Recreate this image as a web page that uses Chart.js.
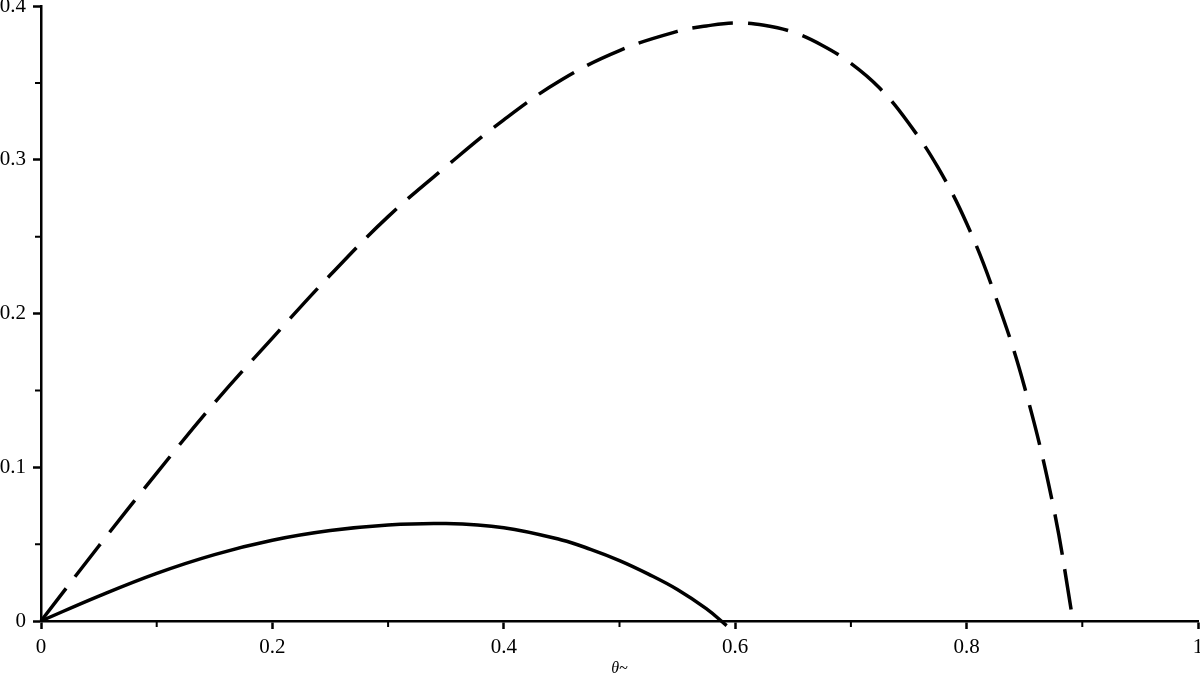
<!DOCTYPE html>
<html>
<head>
<meta charset="utf-8">
<script src="https://cdn.jsdelivr.net/npm/chart.js@4"></script>
<style>
  html, body { margin: 0; padding: 0; background: #fff; }
  #wrap { width: 1200px; height: 678px; }
</style>
</head>
<body>
<div id="wrap"><canvas id="chart" width="1200" height="678"></canvas></div>
<script>
// values
const solidTheta = [0, 0.05, 0.1, 0.15, 0.2, 0.25, 0.3, 0.35, 0.4, 0.45, 0.475, 0.5, 0.525, 0.55, 0.575, 0.5926];
const solidValues = [0, 0.0162, 0.0310, 0.0432, 0.0525, 0.0588, 0.0625, 0.0634, 0.0607, 0.0527, 0.0466, 0.0393, 0.0305, 0.0205, 0.0080, -0.0030];

const dashedTheta = [0, 0.05, 0.1, 0.15, 0.2, 0.25, 0.3, 0.35, 0.4, 0.45, 0.5, 0.55, 0.575, 0.6, 0.625, 0.65, 0.675, 0.7, 0.725, 0.75, 0.775, 0.8, 0.825, 0.85, 0.875, 0.892];
const dashedValues = [0, 0.0488, 0.0962, 0.142, 0.184, 0.225, 0.263, 0.2955, 0.326, 0.352, 0.371, 0.3835, 0.387, 0.389, 0.3875, 0.383, 0.3745, 0.3627, 0.3465, 0.3237, 0.2953, 0.2587, 0.211, 0.1524, 0.0743, 0];

const xMinorTicks = [0.1, 0.3, 0.5, 0.7, 0.9];
const yMinorTicks = [0.05, 0.15, 0.25, 0.35];

const toPoints = (xs, ys) => xs.map((x, i) => ({ x, y: ys[i] }));
const fmt = v => String(Math.round(v * 10) / 10);

const minorTicks = {
  id: "minorTicks",
  afterDraw(chart) {
    const { ctx, scales: { x, y } } = chart;
    ctx.save();
    ctx.strokeStyle = "#000";
    ctx.lineWidth = 2;
    ctx.beginPath();
    xMinorTicks.forEach(v => {
      const px = x.getPixelForValue(v);
      ctx.moveTo(px, y.bottom);
      ctx.lineTo(px, y.bottom + 6);
    });
    yMinorTicks.forEach(v => {
      const py = y.getPixelForValue(v);
      ctx.moveTo(x.left, py);
      ctx.lineTo(x.left - 6, py);
    });
    ctx.stroke();
    ctx.restore();
  }
};

new Chart(document.getElementById("chart"), {
  type: "line",
  data: {
    datasets: [
      {
        data: toPoints(dashedTheta, dashedValues),
        borderColor: "#000",
        borderWidth: 3.5,
        borderDash: [41, 15],
        pointRadius: 0,
        tension: 0.4,
        capBezierPoints: false,
        clip: false
      },
      {
        data: toPoints(solidTheta, solidValues),
        borderColor: "#000",
        borderWidth: 3.5,
        pointRadius: 0,
        tension: 0.4,
        capBezierPoints: false,
        clip: false
      }
    ]
  },
  options: {
    responsive: false,
    animation: false,
    layout: { padding: { top: 6, right: 2, left: 0, bottom: 0 } },
    plugins: { legend: { display: false }, tooltip: { enabled: false } },
    scales: {
      x: {
        type: "linear",
        min: 0,
        max: 1,
        grid: { drawOnChartArea: false, drawTicks: true, tickLength: 8, tickWidth: 2.5, tickColor: "#000" },
        border: { display: true, color: "#000", width: 2.5 },
        ticks: {
          stepSize: 0.2,
          padding: 6,
          maxRotation: 0,
          color: "#000",
          font: { family: "Liberation Serif", size: 21 },
          callback: v => fmt(v)
        },
        title: {
          display: true,
          text: "θ~",
          color: "#000",
          font: { family: "Liberation Serif", size: 16, style: "italic" },
          padding: { top: 0, bottom: 0 }
        },
        afterFit: s => { s.height = 57; s.paddingLeft = 0; s.paddingRight = 0; }
      },
      y: {
        min: 0,
        max: 0.4,
        grid: { drawOnChartArea: false, drawTicks: true, tickLength: 8, tickWidth: 2.5, tickColor: "#000" },
        border: { display: true, color: "#000", width: 2.5 },
        ticks: {
          stepSize: 0.1,
          padding: 7,
          color: "#000",
          font: { family: "Liberation Serif", size: 21 },
          callback: v => fmt(v)
        },
        afterFit: s => { s.width = 41; s.paddingTop = 0; s.paddingBottom = 0; }
      }
    }
  },
  plugins: [minorTicks]
});
</script>
</body>
</html>
